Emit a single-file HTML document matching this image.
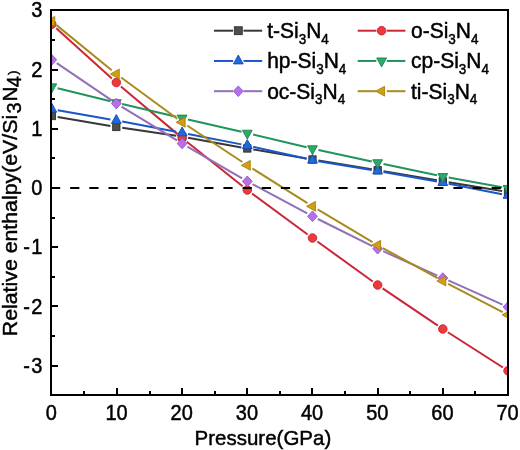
<!DOCTYPE html>
<html><head><meta charset="utf-8">
<style>
html,body{margin:0;padding:0;background:#fff;}
svg{display:block;}
text{font-family:"Liberation Sans",Arial,sans-serif;font-size:20px;fill:#000;stroke:#000;stroke-width:0.45px;}
.lg{font-size:21px;}
.sb{font-size:13.5px;}
</style></head>
<body>
<svg width="520" height="450" viewBox="0 0 520 450">
<rect width="520" height="450" fill="#fff"/>
<defs><clipPath id="c"><rect x="51" y="10" width="457" height="385"/></clipPath></defs>
<g clip-path="url(#c)">
<line x1="57.72" y1="117.02" x2="110.40" y2="125.97" stroke="#383838" stroke-width="2"/>
<line x1="122.25" y1="127.85" x2="176.20" y2="135.81" stroke="#383838" stroke-width="2"/>
<line x1="188.04" y1="137.76" x2="241.41" y2="147.41" stroke="#383838" stroke-width="2"/>
<line x1="253.23" y1="149.48" x2="306.56" y2="158.50" stroke="#383838" stroke-width="2"/>
<line x1="318.40" y1="160.47" x2="371.73" y2="169.25" stroke="#383838" stroke-width="2"/>
<line x1="383.56" y1="171.24" x2="436.91" y2="180.35" stroke="#383838" stroke-width="2"/>
<line x1="448.74" y1="182.32" x2="502.07" y2="190.90" stroke="#383838" stroke-width="2"/>
<rect x="48.15" y="112.36" width="7.3" height="7.3" fill="#4e4e4e" stroke="#303030" stroke-width="0.9"/>
<rect x="112.67" y="123.32" width="7.3" height="7.3" fill="#4e4e4e" stroke="#303030" stroke-width="0.9"/>
<rect x="178.49" y="133.04" width="7.3" height="7.3" fill="#4e4e4e" stroke="#303030" stroke-width="0.9"/>
<rect x="243.66" y="144.83" width="7.3" height="7.3" fill="#4e4e4e" stroke="#303030" stroke-width="0.9"/>
<rect x="308.83" y="155.85" width="7.3" height="7.3" fill="#4e4e4e" stroke="#303030" stroke-width="0.9"/>
<rect x="374.00" y="166.57" width="7.3" height="7.3" fill="#4e4e4e" stroke="#303030" stroke-width="0.9"/>
<rect x="439.17" y="177.71" width="7.3" height="7.3" fill="#4e4e4e" stroke="#303030" stroke-width="0.9"/>
<rect x="504.34" y="188.20" width="7.3" height="7.3" fill="#4e4e4e" stroke="#303030" stroke-width="0.9"/>
<line x1="56.25" y1="28.20" x2="111.87" y2="78.51" stroke="#cc2636" stroke-width="2"/>
<line x1="120.91" y1="86.40" x2="177.55" y2="134.13" stroke="#cc2636" stroke-width="2"/>
<line x1="186.83" y1="141.74" x2="242.62" y2="186.27" stroke="#cc2636" stroke-width="2"/>
<line x1="252.14" y1="193.57" x2="307.65" y2="234.45" stroke="#cc2636" stroke-width="2"/>
<line x1="317.35" y1="241.52" x2="372.78" y2="281.48" stroke="#cc2636" stroke-width="2"/>
<line x1="382.62" y1="288.35" x2="437.85" y2="325.66" stroke="#cc2636" stroke-width="2"/>
<line x1="447.87" y1="332.25" x2="502.94" y2="367.49" stroke="#cc2636" stroke-width="2"/>
<circle cx="51.80" cy="24.17" r="4.25" fill="#f03a3a" stroke="#c42030" stroke-width="0.9"/>
<circle cx="116.32" cy="82.53" r="4.25" fill="#f03a3a" stroke="#c42030" stroke-width="0.9"/>
<circle cx="182.14" cy="137.99" r="4.25" fill="#f03a3a" stroke="#c42030" stroke-width="0.9"/>
<circle cx="247.31" cy="190.01" r="4.25" fill="#f03a3a" stroke="#c42030" stroke-width="0.9"/>
<circle cx="312.48" cy="238.01" r="4.25" fill="#f03a3a" stroke="#c42030" stroke-width="0.9"/>
<circle cx="377.65" cy="284.99" r="4.25" fill="#f03a3a" stroke="#c42030" stroke-width="0.9"/>
<circle cx="442.82" cy="329.01" r="4.25" fill="#f03a3a" stroke="#c42030" stroke-width="0.9"/>
<circle cx="507.99" cy="370.73" r="4.25" fill="#f03a3a" stroke="#c42030" stroke-width="0.9"/>
<line x1="57.71" y1="110.23" x2="110.41" y2="119.42" stroke="#1a56c8" stroke-width="2"/>
<line x1="122.21" y1="121.57" x2="176.24" y2="131.78" stroke="#1a56c8" stroke-width="2"/>
<line x1="188.03" y1="134.04" x2="241.42" y2="144.38" stroke="#1a56c8" stroke-width="2"/>
<line x1="253.16" y1="146.83" x2="306.63" y2="158.84" stroke="#1a56c8" stroke-width="2"/>
<line x1="318.40" y1="161.14" x2="371.73" y2="170.01" stroke="#1a56c8" stroke-width="2"/>
<line x1="383.56" y1="172.04" x2="436.91" y2="181.45" stroke="#1a56c8" stroke-width="2"/>
<line x1="448.71" y1="183.66" x2="502.10" y2="194.24" stroke="#1a56c8" stroke-width="2"/>
<polygon points="51.80,103.26 56.70,112.16 46.90,112.16" fill="#1e6ae0" stroke="#1448b0" stroke-width="0.9" stroke-linejoin="round"/>
<polygon points="116.32,114.52 121.22,123.42 111.42,123.42" fill="#1e6ae0" stroke="#1448b0" stroke-width="0.9" stroke-linejoin="round"/>
<polygon points="182.14,126.96 187.04,135.86 177.24,135.86" fill="#1e6ae0" stroke="#1448b0" stroke-width="0.9" stroke-linejoin="round"/>
<polygon points="247.31,139.58 252.21,148.48 242.41,148.48" fill="#1e6ae0" stroke="#1448b0" stroke-width="0.9" stroke-linejoin="round"/>
<polygon points="312.48,154.22 317.38,163.12 307.58,163.12" fill="#1e6ae0" stroke="#1448b0" stroke-width="0.9" stroke-linejoin="round"/>
<polygon points="377.65,165.06 382.55,173.96 372.75,173.96" fill="#1e6ae0" stroke="#1448b0" stroke-width="0.9" stroke-linejoin="round"/>
<polygon points="442.82,176.56 447.72,185.46 437.92,185.46" fill="#1e6ae0" stroke="#1448b0" stroke-width="0.9" stroke-linejoin="round"/>
<polygon points="507.99,189.47 512.89,198.37 503.09,198.37" fill="#1e6ae0" stroke="#1448b0" stroke-width="0.9" stroke-linejoin="round"/>
<line x1="57.63" y1="88.23" x2="110.49" y2="101.25" stroke="#22935c" stroke-width="2"/>
<line x1="122.16" y1="104.05" x2="176.30" y2="116.72" stroke="#22935c" stroke-width="2"/>
<line x1="187.98" y1="119.44" x2="241.47" y2="131.84" stroke="#22935c" stroke-width="2"/>
<line x1="253.15" y1="134.58" x2="306.64" y2="147.33" stroke="#22935c" stroke-width="2"/>
<line x1="318.35" y1="149.98" x2="371.78" y2="161.44" stroke="#22935c" stroke-width="2"/>
<line x1="383.52" y1="163.94" x2="436.95" y2="175.26" stroke="#22935c" stroke-width="2"/>
<line x1="448.72" y1="177.58" x2="502.09" y2="187.34" stroke="#22935c" stroke-width="2"/>
<polygon points="51.80,92.73 56.70,83.83 46.90,83.83" fill="#2cab68" stroke="#1e8050" stroke-width="0.9" stroke-linejoin="round"/>
<polygon points="116.32,108.61 121.22,99.71 111.42,99.71" fill="#2cab68" stroke="#1e8050" stroke-width="0.9" stroke-linejoin="round"/>
<polygon points="182.14,124.02 187.04,115.12 177.24,115.12" fill="#2cab68" stroke="#1e8050" stroke-width="0.9" stroke-linejoin="round"/>
<polygon points="247.31,139.13 252.21,130.23 242.41,130.23" fill="#2cab68" stroke="#1e8050" stroke-width="0.9" stroke-linejoin="round"/>
<polygon points="312.48,154.65 317.38,145.75 307.58,145.75" fill="#2cab68" stroke="#1e8050" stroke-width="0.9" stroke-linejoin="round"/>
<polygon points="377.65,168.63 382.55,159.73 372.75,159.73" fill="#2cab68" stroke="#1e8050" stroke-width="0.9" stroke-linejoin="round"/>
<polygon points="442.82,182.44 447.72,173.54 437.92,173.54" fill="#2cab68" stroke="#1e8050" stroke-width="0.9" stroke-linejoin="round"/>
<polygon points="507.99,194.35 512.89,185.45 503.09,185.45" fill="#2cab68" stroke="#1e8050" stroke-width="0.9" stroke-linejoin="round"/>
<line x1="56.77" y1="63.15" x2="111.35" y2="100.14" stroke="#9070b8" stroke-width="2"/>
<line x1="121.45" y1="106.63" x2="177.01" y2="140.39" stroke="#9070b8" stroke-width="2"/>
<line x1="187.33" y1="146.52" x2="242.12" y2="178.35" stroke="#9070b8" stroke-width="2"/>
<line x1="252.60" y1="184.20" x2="307.19" y2="213.49" stroke="#9070b8" stroke-width="2"/>
<line x1="317.85" y1="218.99" x2="372.28" y2="246.06" stroke="#9070b8" stroke-width="2"/>
<line x1="383.12" y1="251.19" x2="437.35" y2="275.54" stroke="#9070b8" stroke-width="2"/>
<line x1="448.30" y1="280.44" x2="502.51" y2="304.54" stroke="#9070b8" stroke-width="2"/>
<polygon points="51.80,54.48 56.70,59.78 51.80,65.08 46.90,59.78" fill="#b870e8" stroke="#9058c8" stroke-width="0.9"/>
<polygon points="116.32,98.21 121.22,103.51 116.32,108.81 111.42,103.51" fill="#b870e8" stroke="#9058c8" stroke-width="0.9"/>
<polygon points="182.14,138.20 187.04,143.50 182.14,148.80 177.24,143.50" fill="#b870e8" stroke="#9058c8" stroke-width="0.9"/>
<polygon points="247.31,176.06 252.21,181.36 247.31,186.66 242.41,181.36" fill="#b870e8" stroke="#9058c8" stroke-width="0.9"/>
<polygon points="312.48,211.02 317.38,216.32 312.48,221.62 307.58,216.32" fill="#b870e8" stroke="#9058c8" stroke-width="0.9"/>
<polygon points="377.65,243.43 382.55,248.73 377.65,254.03 372.75,248.73" fill="#b870e8" stroke="#9058c8" stroke-width="0.9"/>
<polygon points="442.82,272.70 447.72,278.00 442.82,283.30 437.92,278.00" fill="#b870e8" stroke="#9058c8" stroke-width="0.9"/>
<polygon points="507.99,301.67 512.89,306.97 507.99,312.27 503.09,306.97" fill="#b870e8" stroke="#9058c8" stroke-width="0.9"/>
<line x1="56.45" y1="25.12" x2="111.67" y2="70.21" stroke="#aa8a1c" stroke-width="2"/>
<line x1="121.16" y1="77.55" x2="177.30" y2="118.69" stroke="#aa8a1c" stroke-width="2"/>
<line x1="187.15" y1="125.54" x2="242.30" y2="162.00" stroke="#aa8a1c" stroke-width="2"/>
<line x1="252.39" y1="168.50" x2="307.40" y2="203.11" stroke="#aa8a1c" stroke-width="2"/>
<line x1="317.63" y1="209.38" x2="372.50" y2="242.10" stroke="#aa8a1c" stroke-width="2"/>
<line x1="382.91" y1="248.07" x2="437.56" y2="278.13" stroke="#aa8a1c" stroke-width="2"/>
<line x1="448.15" y1="283.78" x2="502.66" y2="312.03" stroke="#aa8a1c" stroke-width="2"/>
<polygon points="45.87,21.33 54.77,16.43 54.77,26.23" fill="#d0a012" stroke="#a88010" stroke-width="0.9" stroke-linejoin="round"/>
<polygon points="110.38,74.00 119.28,69.10 119.28,78.90" fill="#d0a012" stroke="#a88010" stroke-width="0.9" stroke-linejoin="round"/>
<polygon points="176.21,122.23 185.11,117.33 185.11,127.13" fill="#d0a012" stroke="#a88010" stroke-width="0.9" stroke-linejoin="round"/>
<polygon points="241.38,165.31 250.28,160.41 250.28,170.21" fill="#d0a012" stroke="#a88010" stroke-width="0.9" stroke-linejoin="round"/>
<polygon points="306.55,206.31 315.45,201.41 315.45,211.21" fill="#d0a012" stroke="#a88010" stroke-width="0.9" stroke-linejoin="round"/>
<polygon points="371.72,245.18 380.62,240.28 380.62,250.08" fill="#d0a012" stroke="#a88010" stroke-width="0.9" stroke-linejoin="round"/>
<polygon points="436.89,281.02 445.79,276.12 445.79,285.92" fill="#d0a012" stroke="#a88010" stroke-width="0.9" stroke-linejoin="round"/>
<polygon points="502.06,314.80 510.96,309.90 510.96,319.69" fill="#d0a012" stroke="#a88010" stroke-width="0.9" stroke-linejoin="round"/>
<line x1="51" y1="188" x2="508" y2="188" stroke="#000" stroke-width="2" stroke-dasharray="9.2 9.96"/>
</g>
<line x1="84" y1="391" x2="84" y2="395" stroke="#000" stroke-width="2"/>
<line x1="117" y1="388" x2="117" y2="395" stroke="#000" stroke-width="2"/>
<line x1="150" y1="391" x2="150" y2="395" stroke="#000" stroke-width="2"/>
<line x1="182" y1="388" x2="182" y2="395" stroke="#000" stroke-width="2"/>
<line x1="215" y1="391" x2="215" y2="395" stroke="#000" stroke-width="2"/>
<line x1="247" y1="388" x2="247" y2="395" stroke="#000" stroke-width="2"/>
<line x1="280" y1="391" x2="280" y2="395" stroke="#000" stroke-width="2"/>
<line x1="312" y1="388" x2="312" y2="395" stroke="#000" stroke-width="2"/>
<line x1="345" y1="391" x2="345" y2="395" stroke="#000" stroke-width="2"/>
<line x1="378" y1="388" x2="378" y2="395" stroke="#000" stroke-width="2"/>
<line x1="410" y1="391" x2="410" y2="395" stroke="#000" stroke-width="2"/>
<line x1="443" y1="388" x2="443" y2="395" stroke="#000" stroke-width="2"/>
<line x1="475" y1="391" x2="475" y2="395" stroke="#000" stroke-width="2"/>
<line x1="508" y1="388" x2="508" y2="395" stroke="#000" stroke-width="2"/>
<line x1="51" y1="366" x2="58" y2="366" stroke="#000" stroke-width="2"/>
<line x1="51" y1="336" x2="55" y2="336" stroke="#000" stroke-width="2"/>
<line x1="51" y1="306" x2="58" y2="306" stroke="#000" stroke-width="2"/>
<line x1="51" y1="277" x2="55" y2="277" stroke="#000" stroke-width="2"/>
<line x1="51" y1="247" x2="58" y2="247" stroke="#000" stroke-width="2"/>
<line x1="51" y1="218" x2="55" y2="218" stroke="#000" stroke-width="2"/>
<line x1="51" y1="188" x2="58" y2="188" stroke="#000" stroke-width="2"/>
<line x1="51" y1="158" x2="55" y2="158" stroke="#000" stroke-width="2"/>
<line x1="51" y1="129" x2="58" y2="129" stroke="#000" stroke-width="2"/>
<line x1="51" y1="99" x2="55" y2="99" stroke="#000" stroke-width="2"/>
<line x1="51" y1="70" x2="58" y2="70" stroke="#000" stroke-width="2"/>
<line x1="51" y1="40" x2="55" y2="40" stroke="#000" stroke-width="2"/>
<rect x="51" y="10" width="457" height="385" fill="none" stroke="#000" stroke-width="2"/>
<line x1="214" y1="30.7" x2="233.10" y2="30.7" stroke="#383838" stroke-width="2"/>
<line x1="243.50" y1="30.7" x2="262.2" y2="30.7" stroke="#383838" stroke-width="2"/>
<rect x="234.35" y="26.75" width="7.9" height="7.9" fill="#4e4e4e" stroke="#303030" stroke-width="0.9"/>
<text class="lg" transform="translate(267.15 38.00) scale(1 1.05)">t-Si<tspan class="sb" dy="5.5">3</tspan><tspan dy="-5.5">N</tspan><tspan class="sb" dy="5.5">4</tspan></text>
<line x1="357.7" y1="30.7" x2="376.40" y2="30.7" stroke="#cc2636" stroke-width="2"/>
<line x1="386.80" y1="30.7" x2="405.4" y2="30.7" stroke="#cc2636" stroke-width="2"/>
<circle cx="381.60" cy="30.70" r="4.25" fill="#f03a3a" stroke="#c42030" stroke-width="0.9"/>
<text class="lg" transform="translate(411.0 38.00) scale(1 1.05)">o-Si<tspan class="sb" dy="5.5">3</tspan><tspan dy="-5.5">N</tspan><tspan class="sb" dy="5.5">4</tspan></text>
<line x1="214" y1="60.95" x2="233.10" y2="60.95" stroke="#1a56c8" stroke-width="2"/>
<line x1="243.50" y1="60.95" x2="262.2" y2="60.95" stroke="#1a56c8" stroke-width="2"/>
<polygon points="238.30,55.02 243.20,63.92 233.40,63.92" fill="#1e6ae0" stroke="#1448b0" stroke-width="0.9" stroke-linejoin="round"/>
<text class="lg" transform="translate(267.15 68.25) scale(1 1.05)">hp-Si<tspan class="sb" dy="5.5">3</tspan><tspan dy="-5.5">N</tspan><tspan class="sb" dy="5.5">4</tspan></text>
<line x1="357.7" y1="60.95" x2="376.40" y2="60.95" stroke="#22935c" stroke-width="2"/>
<line x1="386.80" y1="60.95" x2="405.4" y2="60.95" stroke="#22935c" stroke-width="2"/>
<polygon points="381.60,66.88 386.50,57.98 376.70,57.98" fill="#2cab68" stroke="#1e8050" stroke-width="0.9" stroke-linejoin="round"/>
<text class="lg" transform="translate(411.0 68.25) scale(1 1.05)">cp-Si<tspan class="sb" dy="5.5">3</tspan><tspan dy="-5.5">N</tspan><tspan class="sb" dy="5.5">4</tspan></text>
<line x1="214" y1="91.2" x2="233.10" y2="91.2" stroke="#9070b8" stroke-width="2"/>
<line x1="243.50" y1="91.2" x2="262.2" y2="91.2" stroke="#9070b8" stroke-width="2"/>
<polygon points="238.30,85.90 243.20,91.20 238.30,96.50 233.40,91.20" fill="#b870e8" stroke="#9058c8" stroke-width="0.9"/>
<text class="lg" transform="translate(267.15 98.50) scale(1 1.05)">oc-Si<tspan class="sb" dy="5.5">3</tspan><tspan dy="-5.5">N</tspan><tspan class="sb" dy="5.5">4</tspan></text>
<line x1="357.7" y1="91.2" x2="376.40" y2="91.2" stroke="#aa8a1c" stroke-width="2"/>
<line x1="386.80" y1="91.2" x2="405.4" y2="91.2" stroke="#aa8a1c" stroke-width="2"/>
<polygon points="375.67,91.20 384.57,86.30 384.57,96.10" fill="#d0a012" stroke="#a88010" stroke-width="0.9" stroke-linejoin="round"/>
<text class="lg" transform="translate(411.0 98.50) scale(1 1.05)">ti-Si<tspan class="sb" dy="5.5">3</tspan><tspan dy="-5.5">N</tspan><tspan class="sb" dy="5.5">4</tspan></text>
<text transform="translate(51.40 420.3) scale(1 1.1)" text-anchor="middle">0</text>
<text transform="translate(116.57 420.3) scale(1 1.1)" text-anchor="middle">10</text>
<text transform="translate(181.74 420.3) scale(1 1.1)" text-anchor="middle">20</text>
<text transform="translate(246.91 420.3) scale(1 1.1)" text-anchor="middle">30</text>
<text transform="translate(312.08 420.3) scale(1 1.1)" text-anchor="middle">40</text>
<text transform="translate(377.25 420.3) scale(1 1.1)" text-anchor="middle">50</text>
<text transform="translate(442.42 420.3) scale(1 1.1)" text-anchor="middle">60</text>
<text transform="translate(507.59 420.3) scale(1 1.1)" text-anchor="middle">70</text>
<text transform="translate(42.4 372.75) scale(1 1.1)" text-anchor="end">3</text>
<text transform="translate(23.3 372.75) scale(1 1.1)">-</text>
<text transform="translate(42.4 313.50) scale(1 1.1)" text-anchor="end">2</text>
<text transform="translate(23.3 313.50) scale(1 1.1)">-</text>
<text transform="translate(42.4 254.25) scale(1 1.1)" text-anchor="end">1</text>
<text transform="translate(23.3 254.25) scale(1 1.1)">-</text>
<text transform="translate(42.4 195.00) scale(1 1.1)" text-anchor="end">0</text>
<text transform="translate(42.4 135.75) scale(1 1.1)" text-anchor="end">1</text>
<text transform="translate(42.4 76.50) scale(1 1.1)" text-anchor="end">2</text>
<text transform="translate(42.4 17.25) scale(1 1.1)" text-anchor="end">3</text>
<text transform="translate(194.6 444.8) scale(1 1.03)" style="font-size:20.5px">Pressure(GPa)</text>
<text transform="translate(16.5 336.2) scale(1 1.065) rotate(-90)">Relative enthalpy(eV/Si</text>
<text transform="translate(21.2 113.6) rotate(-90)">3</text>
<text transform="translate(16.7 101.5) rotate(-90)" style="font-size:20.6px">N</text>
<text transform="translate(21.0 87.2) rotate(-90)">4</text>
<text transform="translate(17.3 75.0) rotate(-90)" style="font-size:13.5px">)</text>
</svg>
</body></html>
